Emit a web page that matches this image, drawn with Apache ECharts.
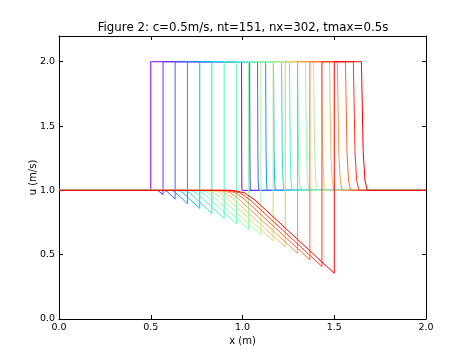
<!DOCTYPE html>
<html>
<head>
<meta charset="utf-8">
<script src="https://cdn.jsdelivr.net/npm/echarts@6/dist/echarts.min.js"></script>
<style>html,body{margin:0;padding:0;background:#fff}#c{width:474px;height:355px}</style>
</head>
<body>
<div id="c"></div>
<script>
// ---- data ----
const xTicks = [0.0, 0.5, 1.0, 1.5, 2.0];
const yTicks = [0.0, 0.5, 1.0, 1.5, 2.0];
const baseValue = 1.0;           // u outside the pulse
const topValue = 2.0;            // u on top of the pulse
// x of the rising (left) edge of each of the 16 curves
const leftEdge  = [0.500, 0.567, 0.633, 0.700, 0.767, 0.833, 0.900, 0.967, 1.033, 1.100, 1.167, 1.233, 1.300, 1.367, 1.433, 1.500];
// x of the falling (right) edge
const rightEdge = [0.995, 1.039, 1.082, 1.126, 1.169, 1.213, 1.256, 1.300, 1.343, 1.387, 1.430, 1.474, 1.517, 1.561, 1.604, 1.648];
// width of the smeared falling edge
const rightSpread = [0.002, 0.004, 0.006, 0.008, 0.010, 0.012, 0.014, 0.016, 0.018, 0.020, 0.022, 0.024, 0.026, 0.028, 0.030, 0.032];
// x where the undershoot in front of the left edge begins (null: none)
const dipStart  = [null, 0.542, 0.582, 0.622, 0.661, 0.698, 0.735, 0.770, 0.804, 0.837, 0.869, 0.899, 0.929, 0.958, 0.985, 1.011];
// lowest u reached just before the left edge
const dipBottom = [1.000, 0.967, 0.933, 0.897, 0.860, 0.822, 0.782, 0.740, 0.697, 0.653, 0.607, 0.559, 0.510, 0.460, 0.408, 0.355];
// half width of the rounded knee where the undershoot starts
const dipKnee   = [0, 0.004, 0.008, 0.012, 0.016, 0.020, 0.024, 0.028, 0.032, 0.036, 0.040, 0.044, 0.048, 0.052, 0.056, 0.060];

// matplotlib "rainbow" colormap sampled at 16 steps
const colors = ['#8000ff','#5e35fe','#3c68f9','#1a96f3','#09bde9','#2bdddd','#4df3ce','#6efebd',
                '#90feab','#b3f396','#d4dd80','#f6bd68','#ff964f','#ff6835','#ff351b','#ff0000'];

const xMin = xTicks[0], xMax = xTicks[xTicks.length - 1];

function curve(i) {
  const pts = [[xMin, baseValue]];
  const xl = leftEdge[i], xr = rightEdge[i], b = dipBottom[i];
  if (dipStart[i] !== null) {
    const xs = dipStart[i], h = dipKnee[i];
    const s = (baseValue - b) / (xl - xs);
    pts.push([xs - h, baseValue]);
    pts.push([xs, baseValue - s * h / 4]);
    pts.push([xs + h, baseValue - s * h]);
    pts.push([xl, b]);
  } else {
    pts.push([xl, b]);
  }
  pts.push([xl, topValue]);
  pts.push([xr, topValue]);
  const w = rightSpread[i], d = topValue - baseValue;
  pts.push([xr + 0.3 * w, baseValue + 0.3 * d]);
  pts.push([xr + 0.6 * w, baseValue + 0.08 * d]);
  pts.push([xr + w, baseValue]);
  pts.push([xMax, baseValue]);
  return pts;
}

const series = leftEdge.map((_, i) => ({
  type: 'line',
  data: curve(i),
  showSymbol: false,
  symbol: 'none',
  xAxisIndex: 0, yAxisIndex: 0,
  lineStyle: { color: colors[i], width: 1 },
  z: 2 + i,
  animation: false
}));

const font = 'DejaVu Sans';
const chart = echarts.init(document.getElementById('c'), null, { renderer: 'canvas' });
const axisCommon = {
  type: 'value',
  axisLine: { show: true, onZero: false, lineStyle: { color: '#000', width: 1 } },
  axisTick: { show: true, inside: true, length: 4, lineStyle: { color: '#000', width: 1 } },
  splitLine: { show: false }
};
chart.setOption({
  animation: false,
  backgroundColor: '#fff',
  title: {
    text: 'Figure 2: c=0.5m/s, nt=151, nx=302, tmax=0.5s',
    left: 238, top: 17, textAlign: 'center',
    textStyle: { fontFamily: font, fontSize: 11.8, fontWeight: 'normal', color: '#000' }
  },
  grid: { left: 59, right: 48, top: 36, bottom: 36, show: false },
  xAxis: [
    Object.assign({}, axisCommon, {
      position: 'bottom', min: xMin, max: xMax, interval: 0.5,
      name: 'x (m)', nameLocation: 'middle', nameGap: 17, nameMoveOverlap: false,
      nameTextStyle: { fontFamily: font, fontSize: 10, color: '#000' },
      axisLabel: { fontFamily: font, fontSize: 9.5, color: '#000', margin: 4, formatter: v => v.toFixed(1) }
    }),
    Object.assign({}, axisCommon, {
      position: 'top', min: xMin, max: xMax, interval: 0.5,
      axisLabel: { show: false }
    })
  ],
  yAxis: [
    Object.assign({}, axisCommon, {
      position: 'left', min: yTicks[0], max: 2.2, interval: 0.5,
      name: 'u (m/s)', nameLocation: 'middle', nameGap: 21, nameRotate: 90, nameMoveOverlap: false,
      nameTextStyle: { fontFamily: font, fontSize: 10, color: '#000' },
      axisLabel: { fontFamily: font, fontSize: 9.5, color: '#000', margin: 4, showMaxLabel: false,
                   formatter: v => (yTicks.indexOf(Math.round(v * 10) / 10) >= 0 ? v.toFixed(1) : '') }
    }),
    Object.assign({}, axisCommon, {
      position: 'right', min: yTicks[0], max: 2.2, interval: 0.5,
      axisLabel: { show: false }
    })
  ],
  series: series
});
</script>
</body>
</html>
